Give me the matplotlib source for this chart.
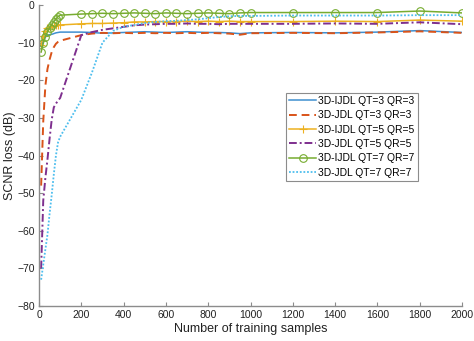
from matplotlib import pyplot as plt

# sample counts on the x axis
n_samples = [10, 20, 30, 40, 50, 60, 70, 80, 90, 100,
             200, 250, 300, 350, 400, 450, 500, 550, 600, 650,
             700, 750, 800, 850, 900, 950, 1000, 1200, 1400, 1600, 1800, 2000]

# SCNR loss (dB)
ijdl_q3 = [-11.0, -9.5, -8.5, -8.1, -7.9, -7.8, -7.6, -7.4, -7.3, -7.2,
           -7.2, -7.3, -7.5, -7.4, -7.3, -7.2, -7.1, -7.2, -7.3, -7.2,
           -7.1, -7.2, -7.3, -7.3, -7.4, -7.6, -7.4, -7.3, -7.4, -7.2, -6.8, -7.3]
jdl_q3 = [-48.0, -31.0, -21.5, -17.0, -14.5, -12.5, -11.2, -10.3, -9.8, -9.5,
          -8.0, -7.6, -7.4, -7.5, -7.4, -7.5, -7.4, -7.5, -7.4, -7.5,
          -7.4, -7.5, -7.4, -7.5, -7.6, -7.9, -7.5, -7.4, -7.5, -7.3, -7.0, -7.4]
ijdl_q5 = [-10.5, -8.2, -6.8, -6.2, -5.8, -5.6, -5.5, -5.4, -5.3, -5.3,
           -5.0, -4.9, -4.9, -4.8, -4.7, -4.5, -4.5, -4.4, -4.4, -4.4,
           -4.3, -4.4, -4.3, -4.4, -4.3, -4.4, -4.4, -4.4, -4.3, -4.4, -4.0, -4.3]
jdl_q5 = [-70.0, -52.0, -46.0, -41.0, -35.5, -30.5, -27.2, -26.2, -25.4, -24.7,
          -8.0, -7.2, -6.6, -6.2, -5.8, -5.4, -5.2, -5.1, -5.0, -5.0,
          -4.9, -5.0, -5.0, -5.1, -5.0, -5.0, -5.0, -5.0, -4.9, -5.0, -4.6, -5.1]
ijdl_q7 = [-12.5, -10.2, -8.4, -7.1, -6.1, -5.2, -4.4, -3.7, -3.1, -2.7,
           -2.4, -2.3, -2.2, -2.3, -2.2, -2.1, -2.2, -2.3, -2.1, -2.2,
           -2.3, -2.2, -2.1, -2.2, -2.3, -2.1, -2.0, -2.0, -2.0, -2.0, -1.6, -2.1]
jdl_q7 = [-73.0, -69.0, -65.0, -61.0, -55.5, -50.5, -45.0, -40.0, -36.5, -35.0,
          -25.2, -18.0, -10.0, -6.9, -5.8, -5.3, -4.8, -4.5, -4.3, -4.2,
          -4.0, -3.8, -3.5, -3.2, -3.0, -2.9, -2.9, -2.8, -2.8, -2.8, -2.7, -2.7]

labels = ['3D-IJDL QT=3 QR=3', '3D-JDL QT=3 QR=3', '3D-IJDL QT=5 QR=5',
          '3D-JDL QT=5 QR=5', '3D-IJDL QT=7 QR=7', '3D-JDL QT=7 QR=7']

plt.rcParams['font.family'] = ['Liberation Sans', 'DejaVu Sans']

fig = plt.figure(figsize=(4.74, 3.41), dpi=100)
ax = fig.add_axes([0.0823, 0.1026, 0.8924, 0.8827])

lw = 1.1
ax.plot(n_samples, ijdl_q3, color='#3f8fd0', ls='-', lw=lw, label=labels[0])
ax.plot(n_samples, jdl_q3, color='#d95319', ls=(0, (4, 2.5)), lw=1.4, label=labels[1])
ax.plot(n_samples, ijdl_q5, color='#edb120', ls='-', lw=lw, marker='+', ms=6,
        mew=0.8, label=labels[2])
ax.plot(n_samples, jdl_q5, color='#7e2f8e', ls=(0, (4, 1.5, 1, 1.5)), lw=1.4, label=labels[3])
ax.plot(n_samples, ijdl_q7, color='#77ac30', ls='-', lw=lw, marker='o', ms=5.5,
        mfc='none', mew=0.8, label=labels[4])
ax.plot(n_samples, jdl_q7, color='#4dbeee', ls=(0, (1, 1)), lw=1.3, label=labels[5])

ax.set_xlim(0, 2000)
ax.set_ylim(-80, 0)
ax.set_xticks([0, 200, 400, 600, 800, 1000, 1200, 1400, 1600, 1800, 2000])
ax.set_yticks([-80, -70, -60, -50, -40, -30, -20, -10, 0])

for side in ['top', 'right']:
    ax.spines[side].set_visible(False)
for side in ['left', 'bottom']:
    ax.spines[side].set_color('#8c8c8c')
    ax.spines[side].set_linewidth(1.0)
ax.tick_params(direction='in', length=3, width=0.8, color='#8c8c8c',
               labelsize=7.5, labelcolor='#222222', pad=3)

ax.set_xlabel('Number of training samples', fontsize=9, color='#222222', labelpad=2)
ax.set_ylabel('SCNR loss (dB)', fontsize=9, color='#222222', labelpad=1)

leg = ax.legend(loc='upper right', bbox_to_anchor=(0.895, 0.708), fontsize=7.4,
                frameon=True, fancybox=False, framealpha=1, edgecolor='#8c8c8c',
                handlelength=2.6, handletextpad=0.2, labelspacing=0.42,
                borderpad=0.3, borderaxespad=0)
leg.get_frame().set_linewidth(0.8)

fig.savefig('out.png', dpi=100)
